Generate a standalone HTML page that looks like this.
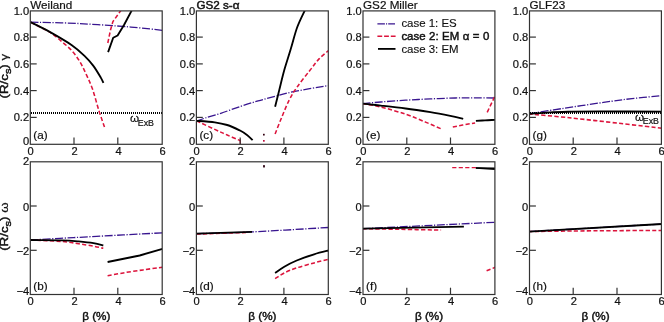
<!DOCTYPE html>
<html><head><meta charset="utf-8"><title>figure</title>
<style>html,body{margin:0;padding:0;background:#fff}svg{display:block}text{font-family:"Liberation Sans", sans-serif;fill:#111}.t{font-size:10.4px;stroke:#111;stroke-width:.2px}.l{font-size:11.7px;stroke:#111;stroke-width:.2px}.b{font-size:11.7px;stroke:#111;stroke-width:.45px}.g{font-size:11.45px;stroke:#111;stroke-width:.15px}.gb{font-size:11.45px;stroke:#111;stroke-width:.45px;word-spacing:.3px}.s{font-size:8.8px;stroke:#111;stroke-width:.2px}</style>
</head><body>
<svg width="664" height="322" viewBox="0 0 664 322">
<rect width="664" height="322" fill="#fff"/>
<defs>
<clipPath id="p00"><rect x="30.3" y="10.9" width="131.9" height="133.4"/></clipPath>
<clipPath id="p01"><rect x="30.3" y="161.8" width="131.9" height="132.7"/></clipPath>
<clipPath id="p10"><rect x="196.4" y="10.9" width="131.9" height="133.4"/></clipPath>
<clipPath id="p11"><rect x="196.4" y="161.8" width="131.9" height="132.7"/></clipPath>
<clipPath id="p20"><rect x="363.0" y="10.9" width="131.9" height="133.4"/></clipPath>
<clipPath id="p21"><rect x="363.0" y="161.8" width="131.9" height="132.7"/></clipPath>
<clipPath id="p30"><rect x="529.5" y="10.9" width="131.9" height="133.4"/></clipPath>
<clipPath id="p31"><rect x="529.5" y="161.8" width="131.9" height="132.7"/></clipPath>
</defs>
<path d="M30.5 22.1 C38.4 22.3 61.8 22.7 78.0 23.5 C94.2 24.3 113.9 25.7 128.0 26.8 C142.1 27.9 156.8 29.7 162.5 30.3" fill="none" stroke="#38158f" stroke-width="1.3" stroke-dasharray="8 1.6 1.2 1.6" clip-path="url(#p00)" />
<path d="M31.0 113.0 L162.0 113.0" fill="none" stroke="#000" stroke-width="2" stroke-dasharray="1 1" clip-path="url(#p00)" />
<path d="M30.5 22.1 C33.7 23.8 44.7 29.1 49.7 32.2 C54.7 35.3 57.0 37.6 60.6 40.6 C64.2 43.6 68.2 46.8 71.5 50.4 C74.8 54.0 77.7 58.1 80.2 62.3 C82.7 66.5 84.6 70.8 86.7 75.4 C88.8 80.0 90.8 84.0 92.8 89.9 C94.8 95.8 97.0 104.7 99.0 110.9 C101.0 117.1 103.6 124.4 104.5 127.1" fill="none" stroke="#dc143c" stroke-width="1.55" stroke-dasharray="4.2 2.3" clip-path="url(#p00)" />
<path d="M30.5 22.1 C33.7 23.7 42.9 28.1 49.7 31.9 C56.5 35.7 65.7 41.0 71.5 45.0 C77.3 49.0 80.9 52.4 84.5 55.8 C88.1 59.2 90.5 62.0 93.2 65.6 C95.9 69.2 99.1 74.7 100.8 77.6 C102.5 80.5 103.0 82.0 103.5 82.9" fill="none" stroke="#000" stroke-width="1.85" clip-path="url(#p00)" />
<path d="M107.8 43.0 L110.5 30.0 L112.9 21.6 L121.0 10.3" fill="none" stroke="#dc143c" stroke-width="1.55" stroke-dasharray="4.2 2.3" clip-path="url(#p00)" stroke-linejoin="round"/>
<path d="M108.1 52.1 L113.2 37.8 L117.6 35.5 L124.0 25.0 L131.7 10.5" fill="none" stroke="#000" stroke-width="1.85" clip-path="url(#p00)" stroke-linejoin="round"/>
<path d="M196.4 121.2 C197.8 120.7 200.6 119.5 204.7 118.2 C208.8 116.9 214.8 115.3 220.8 113.3 C226.8 111.3 234.5 108.4 240.7 106.3 C246.9 104.2 252.4 102.6 258.1 100.9 C263.8 99.2 269.0 97.9 274.9 96.4 C280.8 94.9 284.4 93.5 293.3 91.7 C302.2 89.9 322.6 86.5 328.5 85.5" fill="none" stroke="#38158f" stroke-width="1.3" stroke-dasharray="8 1.6 1.2 1.6" clip-path="url(#p10)" />
<path d="M196.4 120.9 C199.5 122.3 209.7 127.1 214.8 129.4 C219.9 131.8 223.0 133.1 227.2 135.0 C231.4 136.9 238.0 139.7 240.2 140.6" fill="none" stroke="#dc143c" stroke-width="1.55" stroke-dasharray="4.2 2.3" clip-path="url(#p10)" />
<path d="M240.3 139.5 L240.3 144.0" fill="none" stroke="#dc143c" stroke-width="1.4" clip-path="url(#p10)" />
<path d="M196.4 120.9 C199.5 121.1 209.7 121.6 214.8 122.3 C219.9 123.0 223.1 123.7 227.2 125.0 C231.3 126.3 236.3 128.7 239.6 130.3 C242.9 132.0 244.8 133.3 247.0 134.9 C249.2 136.5 251.7 139.2 252.6 140.1" fill="none" stroke="#000" stroke-width="1.85" clip-path="url(#p10)" />
<path d="M275.1 134.0 C276.2 131.2 279.4 122.8 281.8 117.1 C284.2 111.4 286.8 104.7 289.3 99.8 C291.8 94.9 293.3 92.5 296.7 87.6 C300.1 82.7 306.0 75.3 309.8 70.5 C313.6 65.7 316.2 61.9 319.3 58.6 C322.4 55.3 327.0 51.9 328.5 50.5" fill="none" stroke="#dc143c" stroke-width="1.55" stroke-dasharray="4.2 2.3" clip-path="url(#p10)" />
<path d="M275.1 106.7 C275.8 103.9 277.8 96.0 279.3 89.9 C280.8 83.8 282.4 76.7 284.3 70.0 C286.2 63.3 288.5 56.7 290.6 49.6 C292.8 42.5 294.8 33.8 297.2 27.3 C299.6 20.8 303.5 13.3 304.8 10.5" fill="none" stroke="#000" stroke-width="1.85" clip-path="url(#p10)" />
<rect x="263" y="133.8" width="1.7" height="1.7" fill="#301"/><rect x="263" y="140" width="1.7" height="1.7" fill="#c01040"/>
<path d="M362.5 103.6 C365.6 103.3 373.6 102.6 380.8 102.0 C388.0 101.4 397.3 100.7 405.6 100.2 C413.9 99.7 422.1 99.3 430.4 98.9 C438.7 98.5 447.9 98.2 455.3 98.0 C462.7 97.8 468.3 97.8 475.0 97.8 C481.7 97.8 492.1 98.0 495.5 98.0" fill="none" stroke="#38158f" stroke-width="1.3" stroke-dasharray="8 1.6 1.2 1.6" clip-path="url(#p20)" />
<path d="M362.5 103.6 C365.6 104.2 373.6 105.2 380.8 107.0 C388.0 108.8 398.2 111.7 405.6 114.2 C413.1 116.7 419.6 119.7 425.5 122.1 C431.4 124.5 438.5 127.7 441.1 128.8" fill="none" stroke="#dc143c" stroke-width="1.55" stroke-dasharray="4.2 2.3" clip-path="url(#p20)" />
<path d="M452.8 127.1 L462.7 125.1 L475.1 122.9" fill="none" stroke="#dc143c" stroke-width="1.55" stroke-dasharray="4.2 2.3" clip-path="url(#p20)" />
<path d="M487.2 112.3 L495.0 96.0" fill="none" stroke="#dc143c" stroke-width="1.55" stroke-dasharray="4.2 2.3" clip-path="url(#p20)" />
<path d="M362.5 103.6 C365.6 103.9 373.6 104.8 380.8 105.6 C388.0 106.4 397.3 107.4 405.6 108.5 C413.9 109.6 422.9 111.0 430.4 112.2 C437.8 113.4 444.8 114.8 450.3 115.9 C455.8 117.0 461.1 118.4 463.2 118.9" fill="none" stroke="#000" stroke-width="1.85" clip-path="url(#p20)" />
<path d="M475.9 120.9 C477.4 120.8 481.7 120.5 485.0 120.3 C488.3 120.1 493.8 120.0 495.5 119.9" fill="none" stroke="#000" stroke-width="1.85" clip-path="url(#p20)" />
<path d="M528.5 113.9 C534.0 113.0 548.8 110.6 561.3 108.7 C573.8 106.8 591.7 104.1 603.5 102.4 C615.3 100.7 622.2 99.7 632.0 98.6 C641.8 97.5 657.0 96.1 662.0 95.6" fill="none" stroke="#38158f" stroke-width="1.3" stroke-dasharray="8 1.6 1.2 1.6" clip-path="url(#p30)" />
<path d="M530.0 112.9 L661.0 112.9" fill="none" stroke="#000" stroke-width="2" stroke-dasharray="1 1" clip-path="url(#p30)" />
<path d="M528.5 113.9 C535.7 114.6 556.1 116.4 571.6 118.0 C587.1 119.6 606.2 121.9 621.3 123.6 C636.4 125.3 655.2 127.5 662.0 128.3" fill="none" stroke="#dc143c" stroke-width="1.55" stroke-dasharray="4.2 2.3" clip-path="url(#p30)" />
<path d="M528.5 113.9 C532.1 113.7 542.8 112.8 550.0 112.4 C557.2 112.0 563.3 111.9 571.6 111.7 C579.9 111.5 584.9 111.4 600.0 111.4 C615.1 111.4 651.7 111.7 662.0 111.7" fill="none" stroke="#000" stroke-width="1.85" clip-path="url(#p30)" />
<path d="M30.3 240.0 C37.5 239.6 58.1 238.4 73.6 237.6 C89.1 236.8 108.5 235.7 123.3 234.9 C138.1 234.1 156.0 233.2 162.5 232.8" fill="none" stroke="#38158f" stroke-width="1.3" stroke-dasharray="8 1.6 1.2 1.6" clip-path="url(#p01)" />
<path d="M30.3 240.0 C35.5 240.2 53.2 240.8 61.2 241.4 C69.2 242.0 73.2 242.9 78.6 243.7 C84.0 244.5 89.4 245.4 93.5 246.2 C97.6 247.0 101.7 248.0 103.3 248.3" fill="none" stroke="#dc143c" stroke-width="1.55" stroke-dasharray="4.2 2.3" clip-path="url(#p01)" />
<path d="M30.3 240.0 C35.5 240.1 53.2 240.1 61.2 240.3 C69.2 240.5 73.2 240.9 78.6 241.4 C84.0 241.9 89.4 242.5 93.5 243.2 C97.6 243.9 101.7 245.1 103.3 245.5" fill="none" stroke="#000" stroke-width="1.85" clip-path="url(#p01)" />
<path d="M107.6 275.8 C110.2 275.3 117.4 273.9 123.3 272.9 C129.2 271.9 136.6 270.8 143.1 269.9 C149.6 268.9 159.3 267.6 162.5 267.2" fill="none" stroke="#dc143c" stroke-width="1.55" stroke-dasharray="4.2 2.3" clip-path="url(#p01)" />
<path d="M107.6 262.0 L139.7 255.5 L162.5 248.9" fill="none" stroke="#000" stroke-width="1.85" clip-path="url(#p01)" stroke-linejoin="round"/>
<path d="M196.5 233.7 C205.8 233.4 230.0 232.9 252.0 231.9 C274.0 230.9 315.8 228.2 328.5 227.5" fill="none" stroke="#38158f" stroke-width="1.3" stroke-dasharray="8 1.6 1.2 1.6" clip-path="url(#p11)" />
<path d="M196.5 234.1 L246.0 232.5" fill="none" stroke="#dc143c" stroke-width="1.55" stroke-dasharray="4.2 2.3" clip-path="url(#p11)" />
<path d="M196.5 233.7 L252.0 231.9" fill="none" stroke="#000" stroke-width="1.85" clip-path="url(#p11)" />
<path d="M275.1 278.6 C276.6 277.7 280.7 274.7 284.3 272.9 C287.9 271.1 291.7 269.6 296.7 267.9 C301.7 266.2 308.8 264.3 314.1 262.9 C319.4 261.4 326.1 259.8 328.5 259.2" fill="none" stroke="#dc143c" stroke-width="1.55" stroke-dasharray="4.2 2.3" clip-path="url(#p11)" />
<path d="M275.1 272.9 C276.6 271.9 280.7 268.8 284.3 266.7 C287.9 264.6 291.7 262.6 296.7 260.5 C301.7 258.4 308.8 256.0 314.1 254.3 C319.4 252.6 326.1 251.1 328.5 250.5" fill="none" stroke="#000" stroke-width="1.85" clip-path="url(#p11)" />
<rect x="263.1" y="165.1" width="1.8" height="2.4" rx=".6" fill="#2a0010"/>
<path d="M362.5 228.7 L494.5 222.3" fill="none" stroke="#38158f" stroke-width="1.3" stroke-dasharray="8 1.6 1.2 1.6" clip-path="url(#p21)" />
<path d="M362.5 228.7 C368.8 228.8 386.9 229.1 400.0 229.3 C413.1 229.5 434.2 230.0 441.1 230.1" fill="none" stroke="#dc143c" stroke-width="1.55" stroke-dasharray="4.2 2.3" clip-path="url(#p21)" />
<path d="M362.5 228.7 L463.9 226.6" fill="none" stroke="#000" stroke-width="1.85" clip-path="url(#p21)" />
<path d="M452.2 167.7 L476.0 167.7" fill="none" stroke="#dc143c" stroke-width="1.3" stroke-dasharray="4.2 2.3" clip-path="url(#p21)" />
<path d="M475.9 168.0 L495.5 168.2" fill="none" stroke="#000" stroke-width="1.5" clip-path="url(#p21)" />
<path d="M475.9 168.0 L495.5 169.4" fill="none" stroke="#000" stroke-width="1.5" clip-path="url(#p21)" />
<path d="M486.6 270.8 L495.5 267.2" fill="none" stroke="#dc143c" stroke-width="1.55" stroke-dasharray="4.2 2.3" clip-path="url(#p21)" />
<path d="M528.5 231.6 L662.0 224.0" fill="none" stroke="#38158f" stroke-width="1.3" stroke-dasharray="8 1.6 1.2 1.6" clip-path="url(#p31)" />
<path d="M528.5 231.6 C535.7 231.5 549.4 231.2 571.6 231.0 C593.9 230.8 646.9 230.5 662.0 230.4" fill="none" stroke="#dc143c" stroke-width="1.55" stroke-dasharray="4.2 2.3" clip-path="url(#p31)" />
<path d="M528.5 231.6 L662.0 224.0" fill="none" stroke="#000" stroke-width="1.85" clip-path="url(#p31)" />
<rect x="30.3" y="10.9" width="131.9" height="133.4" fill="none" stroke="#333" stroke-width="1.2"/>
<text transform="translate(30.6,154.8) scale(1.07,1)" text-anchor="middle" class="t">0</text>
<path d="M74.0 144.3 V137.5" stroke="#333" stroke-width="1.2"/>
<text transform="translate(74.6,154.8) scale(1.07,1)" text-anchor="middle" class="t">2</text>
<path d="M117.8 144.3 V137.5" stroke="#333" stroke-width="1.2"/>
<text transform="translate(118.5,154.8) scale(1.07,1)" text-anchor="middle" class="t">4</text>
<text transform="translate(162.5,154.8) scale(1.07,1)" text-anchor="middle" class="t">6</text>
<text transform="translate(29.1,14.6) scale(1.07,1)" text-anchor="end" class="t">1.0</text>
<path d="M30.3 37.1 H36.7" stroke="#333" stroke-width="1.2"/>
<text transform="translate(29.1,41.3) scale(1.07,1)" text-anchor="end" class="t">0.8</text>
<path d="M30.3 63.9 H36.7" stroke="#333" stroke-width="1.2"/>
<text transform="translate(29.1,68.0) scale(1.07,1)" text-anchor="end" class="t">0.6</text>
<path d="M30.3 90.6 H36.7" stroke="#333" stroke-width="1.2"/>
<text transform="translate(29.1,94.6) scale(1.07,1)" text-anchor="end" class="t">0.4</text>
<path d="M30.3 117.4 H36.7" stroke="#333" stroke-width="1.2"/>
<text transform="translate(29.1,121.3) scale(1.07,1)" text-anchor="end" class="t">0.2</text>
<text transform="translate(29.1,144.6) scale(1.07,1)" text-anchor="end" class="t">0</text>
<rect x="30.3" y="161.8" width="131.9" height="132.7" fill="none" stroke="#333" stroke-width="1.2"/>
<text transform="translate(30.6,305.0) scale(1.07,1)" text-anchor="middle" class="t">0</text>
<path d="M74.0 294.5 V287.7" stroke="#333" stroke-width="1.2"/>
<text transform="translate(74.6,305.0) scale(1.07,1)" text-anchor="middle" class="t">2</text>
<path d="M117.8 294.5 V287.7" stroke="#333" stroke-width="1.2"/>
<text transform="translate(118.5,305.0) scale(1.07,1)" text-anchor="middle" class="t">4</text>
<text transform="translate(162.5,305.0) scale(1.07,1)" text-anchor="middle" class="t">6</text>
<text transform="translate(29.1,165.1) scale(1.07,1)" text-anchor="end" class="t">2</text>
<path d="M30.3 206.0 H36.7" stroke="#333" stroke-width="1.2"/>
<text transform="translate(29.1,210.6) scale(1.07,1)" text-anchor="end" class="t">0</text>
<path d="M30.3 250.3 H36.7" stroke="#333" stroke-width="1.2"/>
<text transform="translate(29.1,254.9) scale(1.07,1)" text-anchor="end" class="t">−2</text>
<text transform="translate(29.1,294.8) scale(1.07,1)" text-anchor="end" class="t">−4</text>
<rect x="196.4" y="10.9" width="131.9" height="133.4" fill="none" stroke="#333" stroke-width="1.2"/>
<text transform="translate(196.7,154.8) scale(1.07,1)" text-anchor="middle" class="t">0</text>
<path d="M240.2 144.3 V137.5" stroke="#333" stroke-width="1.2"/>
<text transform="translate(240.7,154.8) scale(1.07,1)" text-anchor="middle" class="t">2</text>
<path d="M283.9 144.3 V137.5" stroke="#333" stroke-width="1.2"/>
<text transform="translate(284.6,154.8) scale(1.07,1)" text-anchor="middle" class="t">4</text>
<text transform="translate(328.6,154.8) scale(1.07,1)" text-anchor="middle" class="t">6</text>
<text transform="translate(195.2,14.6) scale(1.07,1)" text-anchor="end" class="t">1.0</text>
<path d="M196.4 37.1 H202.8" stroke="#333" stroke-width="1.2"/>
<text transform="translate(195.2,41.3) scale(1.07,1)" text-anchor="end" class="t">0.8</text>
<path d="M196.4 63.9 H202.8" stroke="#333" stroke-width="1.2"/>
<text transform="translate(195.2,68.0) scale(1.07,1)" text-anchor="end" class="t">0.6</text>
<path d="M196.4 90.6 H202.8" stroke="#333" stroke-width="1.2"/>
<text transform="translate(195.2,94.6) scale(1.07,1)" text-anchor="end" class="t">0.4</text>
<path d="M196.4 117.4 H202.8" stroke="#333" stroke-width="1.2"/>
<text transform="translate(195.2,121.3) scale(1.07,1)" text-anchor="end" class="t">0.2</text>
<text transform="translate(195.2,144.6) scale(1.07,1)" text-anchor="end" class="t">0</text>
<rect x="196.4" y="161.8" width="131.9" height="132.7" fill="none" stroke="#333" stroke-width="1.2"/>
<text transform="translate(196.7,305.0) scale(1.07,1)" text-anchor="middle" class="t">0</text>
<path d="M240.2 294.5 V287.7" stroke="#333" stroke-width="1.2"/>
<text transform="translate(240.7,305.0) scale(1.07,1)" text-anchor="middle" class="t">2</text>
<path d="M283.9 294.5 V287.7" stroke="#333" stroke-width="1.2"/>
<text transform="translate(284.6,305.0) scale(1.07,1)" text-anchor="middle" class="t">4</text>
<text transform="translate(328.6,305.0) scale(1.07,1)" text-anchor="middle" class="t">6</text>
<text transform="translate(195.2,165.1) scale(1.07,1)" text-anchor="end" class="t">2</text>
<path d="M196.4 206.0 H202.8" stroke="#333" stroke-width="1.2"/>
<text transform="translate(195.2,210.6) scale(1.07,1)" text-anchor="end" class="t">0</text>
<path d="M196.4 250.3 H202.8" stroke="#333" stroke-width="1.2"/>
<text transform="translate(195.2,254.9) scale(1.07,1)" text-anchor="end" class="t">−2</text>
<text transform="translate(195.2,294.8) scale(1.07,1)" text-anchor="end" class="t">−4</text>
<rect x="363.0" y="10.9" width="131.9" height="133.4" fill="none" stroke="#333" stroke-width="1.2"/>
<text transform="translate(363.3,154.8) scale(1.07,1)" text-anchor="middle" class="t">0</text>
<path d="M406.8 144.3 V137.5" stroke="#333" stroke-width="1.2"/>
<text transform="translate(407.3,154.8) scale(1.07,1)" text-anchor="middle" class="t">2</text>
<path d="M450.5 144.3 V137.5" stroke="#333" stroke-width="1.2"/>
<text transform="translate(451.2,154.8) scale(1.07,1)" text-anchor="middle" class="t">4</text>
<text transform="translate(495.2,154.8) scale(1.07,1)" text-anchor="middle" class="t">6</text>
<text transform="translate(361.8,14.6) scale(1.07,1)" text-anchor="end" class="t">1.0</text>
<path d="M363.0 37.1 H369.4" stroke="#333" stroke-width="1.2"/>
<text transform="translate(361.8,41.3) scale(1.07,1)" text-anchor="end" class="t">0.8</text>
<path d="M363.0 63.9 H369.4" stroke="#333" stroke-width="1.2"/>
<text transform="translate(361.8,68.0) scale(1.07,1)" text-anchor="end" class="t">0.6</text>
<path d="M363.0 90.6 H369.4" stroke="#333" stroke-width="1.2"/>
<text transform="translate(361.8,94.6) scale(1.07,1)" text-anchor="end" class="t">0.4</text>
<path d="M363.0 117.4 H369.4" stroke="#333" stroke-width="1.2"/>
<text transform="translate(361.8,121.3) scale(1.07,1)" text-anchor="end" class="t">0.2</text>
<text transform="translate(361.8,144.6) scale(1.07,1)" text-anchor="end" class="t">0</text>
<rect x="363.0" y="161.8" width="131.9" height="132.7" fill="none" stroke="#333" stroke-width="1.2"/>
<text transform="translate(363.3,305.0) scale(1.07,1)" text-anchor="middle" class="t">0</text>
<path d="M406.8 294.5 V287.7" stroke="#333" stroke-width="1.2"/>
<text transform="translate(407.3,305.0) scale(1.07,1)" text-anchor="middle" class="t">2</text>
<path d="M450.5 294.5 V287.7" stroke="#333" stroke-width="1.2"/>
<text transform="translate(451.2,305.0) scale(1.07,1)" text-anchor="middle" class="t">4</text>
<text transform="translate(495.2,305.0) scale(1.07,1)" text-anchor="middle" class="t">6</text>
<text transform="translate(361.8,165.1) scale(1.07,1)" text-anchor="end" class="t">2</text>
<path d="M363.0 206.0 H369.4" stroke="#333" stroke-width="1.2"/>
<text transform="translate(361.8,210.6) scale(1.07,1)" text-anchor="end" class="t">0</text>
<path d="M363.0 250.3 H369.4" stroke="#333" stroke-width="1.2"/>
<text transform="translate(361.8,254.9) scale(1.07,1)" text-anchor="end" class="t">−2</text>
<text transform="translate(361.8,294.8) scale(1.07,1)" text-anchor="end" class="t">−4</text>
<rect x="529.5" y="10.9" width="131.9" height="133.4" fill="none" stroke="#333" stroke-width="1.2"/>
<text transform="translate(529.8,154.8) scale(1.07,1)" text-anchor="middle" class="t">0</text>
<path d="M573.2 144.3 V137.5" stroke="#333" stroke-width="1.2"/>
<text transform="translate(573.8,154.8) scale(1.07,1)" text-anchor="middle" class="t">2</text>
<path d="M617.0 144.3 V137.5" stroke="#333" stroke-width="1.2"/>
<text transform="translate(617.7,154.8) scale(1.07,1)" text-anchor="middle" class="t">4</text>
<text transform="translate(661.7,154.8) scale(1.07,1)" text-anchor="middle" class="t">6</text>
<text transform="translate(528.3,14.6) scale(1.07,1)" text-anchor="end" class="t">1.0</text>
<path d="M529.5 37.1 H535.9" stroke="#333" stroke-width="1.2"/>
<text transform="translate(528.3,41.3) scale(1.07,1)" text-anchor="end" class="t">0.8</text>
<path d="M529.5 63.9 H535.9" stroke="#333" stroke-width="1.2"/>
<text transform="translate(528.3,68.0) scale(1.07,1)" text-anchor="end" class="t">0.6</text>
<path d="M529.5 90.6 H535.9" stroke="#333" stroke-width="1.2"/>
<text transform="translate(528.3,94.6) scale(1.07,1)" text-anchor="end" class="t">0.4</text>
<path d="M529.5 117.4 H535.9" stroke="#333" stroke-width="1.2"/>
<text transform="translate(528.3,121.3) scale(1.07,1)" text-anchor="end" class="t">0.2</text>
<text transform="translate(528.3,144.6) scale(1.07,1)" text-anchor="end" class="t">0</text>
<rect x="529.5" y="161.8" width="131.9" height="132.7" fill="none" stroke="#333" stroke-width="1.2"/>
<text transform="translate(529.8,305.0) scale(1.07,1)" text-anchor="middle" class="t">0</text>
<path d="M573.2 294.5 V287.7" stroke="#333" stroke-width="1.2"/>
<text transform="translate(573.8,305.0) scale(1.07,1)" text-anchor="middle" class="t">2</text>
<path d="M617.0 294.5 V287.7" stroke="#333" stroke-width="1.2"/>
<text transform="translate(617.7,305.0) scale(1.07,1)" text-anchor="middle" class="t">4</text>
<text transform="translate(661.7,305.0) scale(1.07,1)" text-anchor="middle" class="t">6</text>
<text transform="translate(528.3,165.1) scale(1.07,1)" text-anchor="end" class="t">2</text>
<path d="M529.5 206.0 H535.9" stroke="#333" stroke-width="1.2"/>
<text transform="translate(528.3,210.6) scale(1.07,1)" text-anchor="end" class="t">0</text>
<path d="M529.5 250.3 H535.9" stroke="#333" stroke-width="1.2"/>
<text transform="translate(528.3,254.9) scale(1.07,1)" text-anchor="end" class="t">−2</text>
<text transform="translate(528.3,294.8) scale(1.07,1)" text-anchor="end" class="t">−4</text>
<text x="30.3" y="8.5" class="l">Weiland</text>
<text x="196.4" y="8.5" class="b">GS2 s-α</text>
<text x="363.0" y="8.5" class="l">GS2 Miller</text>
<text x="529.5" y="8.5" class="l">GLF23</text>
<text x="33.3" y="138.9" class="l">(a)</text>
<text x="33.3" y="289.6" class="l">(b)</text>
<text x="199.4" y="138.9" class="l">(c)</text>
<text x="199.4" y="289.6" class="l">(d)</text>
<text x="366.0" y="138.9" class="l">(e)</text>
<text x="366.0" y="289.6" class="l">(f)</text>
<text x="532.5" y="138.9" class="l">(g)</text>
<text x="532.5" y="289.6" class="l">(h)</text>
<text x="96.3" y="320.2" text-anchor="middle" class="b">β (%)</text>
<text x="262.4" y="320.2" text-anchor="middle" class="b">β (%)</text>
<text x="429.0" y="320.2" text-anchor="middle" class="b">β (%)</text>
<text x="595.5" y="320.2" text-anchor="middle" class="b">β (%)</text>
<text transform="translate(8.2,76.2) rotate(-90) scale(1.14,1)" text-anchor="middle"><tspan class="b">(R/c</tspan><tspan class="b" style="font-size:9.6px" dy="2.6">s</tspan><tspan class="b" dy="-2.6">)</tspan><tspan class="l"> γ</tspan></text>
<text transform="translate(8.2,226.6) rotate(-90) scale(1.14,1)" text-anchor="middle"><tspan class="b">(R/c</tspan><tspan class="b" style="font-size:9.6px" dy="2.6">s</tspan><tspan class="b" dy="-2.6">)</tspan><tspan class="l"> ω</tspan></text>
<text x="130.1" y="122.2" class="l">ω</text><text x="137.8" y="125.5" class="s">ExB</text>
<text x="635.1" y="120.9" class="l">ω</text><text x="642.8" y="124.2" class="s">ExB</text>
<path d="M377.4 23.9 H395.0" stroke="#38158f" stroke-width="1.3" stroke-dasharray="7.5 1.1 1.1 1.1"/>
<text x="401.4" y="27.1" class="g">case 1: ES</text>
<path d="M377.4 36.2 H396.3" stroke="#dc143c" stroke-width="1.5" stroke-dasharray="4.8 1.9"/>
<text x="401.4" y="39.8" class="gb">case 2: EM α = 0</text>
<path d="M378.0 48.9 H395.5" stroke="#000" stroke-width="1.8"/>
<text x="401.4" y="52.5" class="g">case 3: EM</text>
</svg></body></html>
